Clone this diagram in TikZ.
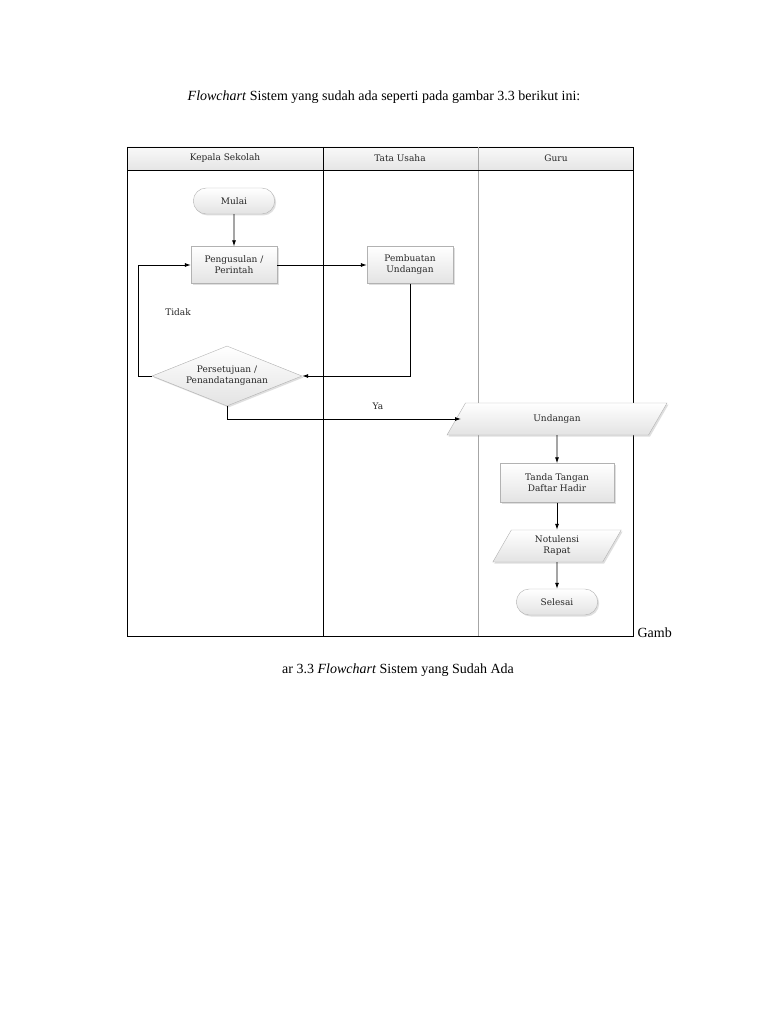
\documentclass[tikz,border=0pt]{standalone}
\usepackage{fontspec}
\setmainfont{Liberation Serif}
\newfontfamily\dfont{DejaVu Serif}
\usetikzlibrary{shapes.geometric,shapes.misc,shadows,arrows.meta}
\begin{document}
\begin{tikzpicture}[x=1pt,y=-1pt,
  lbl/.style={font=\dfont\fontsize{9}{11}\selectfont,align=center,text=black!85},
  boxfill/.style={top color=white,bottom color=gray!22,draw=gray!60,drop shadow={opacity=0.25,shadow xshift=1.5pt,shadow yshift=-1.5pt}},
  proc/.style={boxfill,lbl,rectangle,minimum width=86pt,minimum height=37pt,inner sep=1pt},
  term/.style={boxfill,lbl,rounded rectangle,minimum width=88pt,minimum height=26pt},
  io/.style={boxfill,lbl,trapezium,trapezium left angle=60,trapezium right angle=120,minimum height=32pt,text width=60pt,inner sep=1pt},
  dec/.style={boxfill,lbl,diamond,aspect=2.5,minimum width=150pt,minimum height=60pt,inner sep=0pt},
  arr/.style={draw=black,line width=0.8pt,-{Latex[length=6pt,width=4pt]}}]
\useasboundingbox (0,0) rectangle (768,1024);
\fill[white] (0,0) rectangle (768,1024);
% title
\node[font=\fontsize{14}{16}\selectfont] (title) at (384,97) {\textit{Flowchart} Sistem yang sudah ada seperti pada gambar 3.3 berikut ini:};
% frame
\draw[top color=gray!5,bottom color=gray!20,draw=gray!70] (127,147) rectangle (633,170);
\draw[line width=0.7pt] (127,147) rectangle (633,636);
\draw[line width=0.7pt] (323,147) -- (323,636);
\draw[gray!70] (478,147) -- (478,636);
\draw (127,170) -- (633,170);
\node[lbl] (h1) at (225,158) {Kepala Sekolah};
\node[lbl] (h2) at (400,158) {Tata Usaha};
\node[lbl] (h3) at (556,158) {Guru};
% nodes
\node[term] (mulai) at (234,201) {Mulai};
\node[proc] (usul) at (234,265) {Pengusulan /\\Perintah};
\node[proc] (buat) at (410,265) {Pembuatan\\Undangan};
\node[dec] (setuju) at (227,376) {Persetujuan /\\Penandatanganan};
\node[io,minimum width=125pt] (und) at (557,419) {Undangan};
\node[proc,minimum width=114pt,minimum height=39pt] (ttd) at (557,483) {Tanda Tangan\\Daftar Hadir};
\node[io] (notu) at (557,546) {Notulensi\\Rapat};
\node[term] (sel) at (557,602) {Selesai};
% connectors
\draw[arr] (mulai) -- (usul);
\draw[arr] (usul) -- (buat);
\draw[arr] (buat.south) |- (setuju.east);
\draw[arr] (setuju.west) -- (138,376) |- (usul.west);
\draw[arr] (setuju.south) |- ([xshift=5pt]und.west);
\draw[arr] (und) -- (ttd);
\draw[arr] (ttd) -- (notu);
\draw[arr] (notu) -- (sel);
\node[lbl] (tidak) at (178,312) {Tidak};
\node[lbl] (ya) at (378,406) {Ya};
% caption
\node[font=\fontsize{14}{16}\selectfont,anchor=south west] (gamb) at (634,641) {Gamb};
\node[font=\fontsize{14}{16}\selectfont] (cap) at (398,670) {ar 3.3 \textit{Flowchart} Sistem yang Sudah Ada};
\end{tikzpicture}
\end{document}
